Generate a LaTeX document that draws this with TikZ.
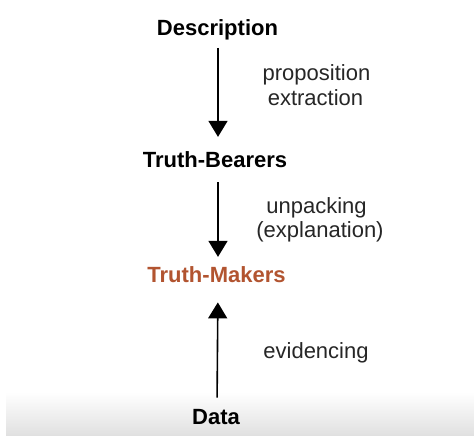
\documentclass[tikz,border=0pt]{standalone}
\usepackage{fontspec}
\setmainfont{Liberation Sans}
\usetikzlibrary{arrows.meta}
\definecolor{makers}{RGB}{178,84,48}
\definecolor{lbl}{RGB}{38,38,38}
\tikzset{
  x=1pt, y=-1pt,
  term/.style={font=\fontsize{22}{24}\selectfont\bfseries, inner sep=0pt, anchor=base, text=black},
  lab/.style={font=\fontsize{22}{26}\selectfont, inner sep=0pt, anchor=base, text=lbl},
  arr/.style={line width=1.6pt, -{Triangle[width=19pt,length=16pt]}}
}
\begin{document}
\begin{tikzpicture}
\useasboundingbox (0,0) rectangle (474,437);
\fill[white] (0,0) rectangle (474,437);
\shade[top color=white, bottom color=black!12] (6,392) rectangle (474,435);

\node[term] (desc) at (217.5,35) {Description};
\node[term] (tb) at (215,167) {Truth-Bearers};
\node[term, text=makers] (tm) at (216.5,282) {Truth-Makers};
\node[term] (data) at (216,424) {Data};

\node[lab] (l1a) at (316.5,80) {proposition};
\node[lab] (l1b) at (315.5,105) {extraction};
\node[lab] (l2a) at (316.5,213) {unpacking};
\node[lab] (l2b) at (320,237) {(explanation)};
\node[lab] (l3) at (316,358) {evidencing};

\draw[arr, shorten <=8pt, shorten >=14pt] ([xshift=0.5pt]desc.south) -- ([xshift=3pt]tb.north);
\draw[arr, shorten <=15pt, shorten >=9pt] ([xshift=3pt]tb.south) -- ([xshift=1.5pt]tm.north);
\draw[arr, shorten <=11pt, shorten >=20pt] ([xshift=1pt]data.north) -- ([xshift=1.5pt]tm.south);
\end{tikzpicture}
\end{document}
